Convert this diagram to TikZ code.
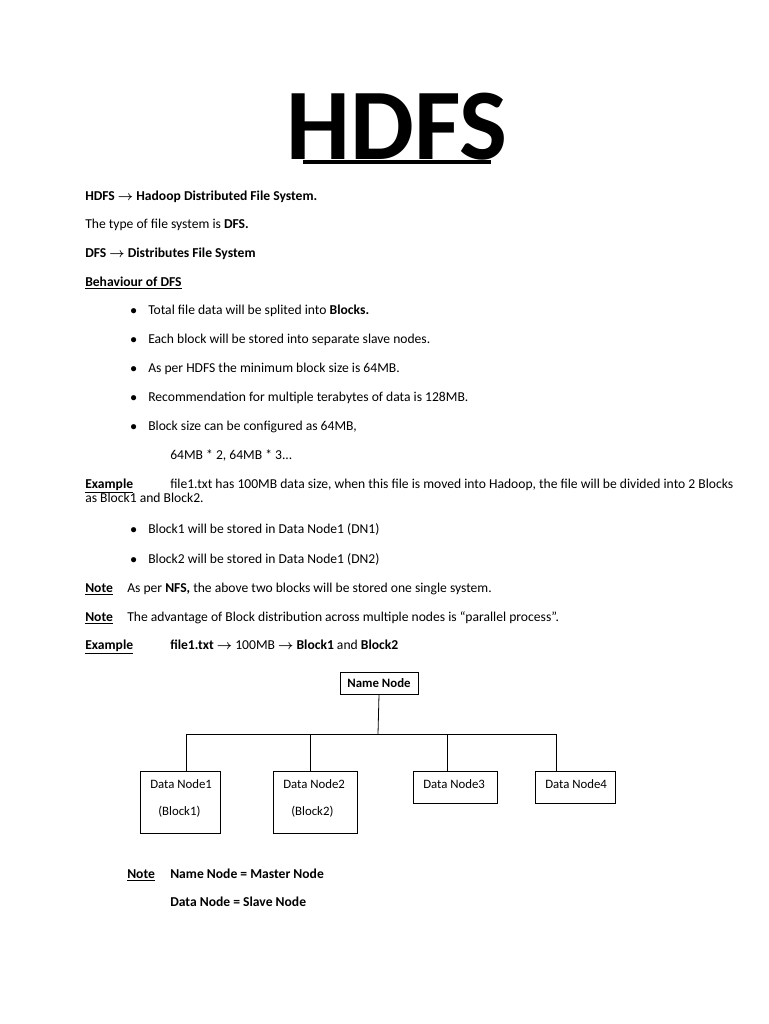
\documentclass[tikz,border=0pt]{standalone}
\usepackage{fontspec}
\setmainfont{Carlito}
\begin{document}
\begin{tikzpicture}[x=0.75pt,y=-0.75pt,
  txt/.style={anchor=base west,inner sep=0pt,font=\fontsize{10.2}{12}\selectfont},
  bx/.style={draw,line width=0.6pt,font=\fontsize{9.6}{12}\selectfont,align=center,inner sep=0pt}]
\useasboundingbox (0,0) rectangle (768,1024);
\fill[white] (0,0) rectangle (768,1024);
\node[inner sep=0pt,font=\bfseries\fontsize{76}{80}\selectfont] (title) at (397,127) {HDFS};
\draw[line width=3.2pt] (303,162) -- (491,162);
\def\ar{\mbox{\boldmath$\rightarrow$}}
\node[txt] (l1) at (85,200) {\textbf{HDFS \ar\ Hadoop Distributed File System.}};
\node[txt] (l2) at (85,228) {The type of file system is \textbf{DFS.}};
\node[txt] (l3) at (85,257) {\textbf{DFS \ar\ Distributes File System}};
\node[txt] (l4) at (85,286) {\underline{\textbf{Behaviour of DFS}}};
\foreach \y/\t in {314/{Total file data will be splited into \textbf{Blocks.}},
  343/{Each block will be stored into separate slave nodes.},
  372/{As per HDFS the minimum block size is 64MB.},
  401/{Recommendation for multiple terabytes of data is 128MB.},
  430/{Block size can be configured as 64MB,},
  533/{Block1 will be stored in Data Node1 (DN1)},
  563/{Block2 will be stored in Data Node1 (DN2)}}{
  \node[txt] at (130,\y) {$\bullet$};
  \node[txt] at (148,\y) {\t};
}
\node[txt] (l5) at (170,459) {64MB * 2, 64MB * 3...};
\node[txt] (l6) at (85,488) {\underline{\textbf{Example}}};
\node[txt] (l7) at (170,488) {file1.txt has 100MB data size, when this file is moved into Hadoop, the file will be divided into 2 Blocks};
\node[txt] (l8) at (85,502) {as Block1 and Block2.};
\node[txt] (n1) at (85,592) {\underline{\textbf{Note}}};
\node[txt] (n1t) at (127,592) {As per \textbf{NFS,} the above two blocks will be stored one single system.};
\node[txt] (n2) at (85,621) {\underline{\textbf{Note}}};
\node[txt] (n2t) at (127,621) {The advantage of Block distribution across multiple nodes is “parallel process”.};
\node[txt] (e2) at (85,649) {\underline{\textbf{Example}}};
\node[txt] (e2t) at (170,649) {\textbf{file1.txt} \ar\ 100MB \ar\ \textbf{Block1} and \textbf{Block2}};
% diagram
\node[bx,minimum width=58.5pt,minimum height=16.5pt,font=\bfseries\fontsize{9.6}{12}\selectfont] (nn) at (379,683) {Name Node};
\node[bx,minimum width=60pt,minimum height=46.5pt,anchor=north west] (d1) at (140,771) {};
\node[txt,font=\fontsize{9.6}{12}\selectfont] at (150,788) {Data Node1};
\node[txt,font=\fontsize{9.6}{12}\selectfont] at (158,815) {(Block1)};
\node[bx,minimum width=63pt,minimum height=46.5pt,anchor=north west] (d2) at (273,771) {};
\node[txt,font=\fontsize{9.6}{12}\selectfont] at (283,788) {Data Node2};
\node[txt,font=\fontsize{9.6}{12}\selectfont] at (291,815) {(Block2)};
\node[bx,minimum width=63pt,minimum height=24pt,anchor=north west] (d3) at (413,771) {};
\node[txt,font=\fontsize{9.6}{12}\selectfont] at (423,788) {Data Node3};
\node[bx,minimum width=60pt,minimum height=24pt,anchor=north west] (d4) at (535,771) {};
\node[txt,font=\fontsize{9.6}{12}\selectfont] at (545,788) {Data Node4};
\coordinate (j) at (378,734);
\draw[line width=0.6pt] (nn.south) -- (j);
\draw[line width=0.6pt] (186,734) -- (556,734);
\draw[line width=0.6pt] (186,734) -- (186,771);
\draw[line width=0.6pt] (310,734) -- (310,771);
\draw[line width=0.6pt] (447,734) -- (447,771);
\draw[line width=0.6pt] (556,734) -- (556,771);
\node[txt] (n3) at (127,878) {\underline{\textbf{Note}}};
\node[txt] (n3t) at (170,878) {\textbf{Name Node = Master Node}};
\node[txt] (n4t) at (170,906) {\textbf{Data Node = Slave Node}};
\end{tikzpicture}
\end{document}
